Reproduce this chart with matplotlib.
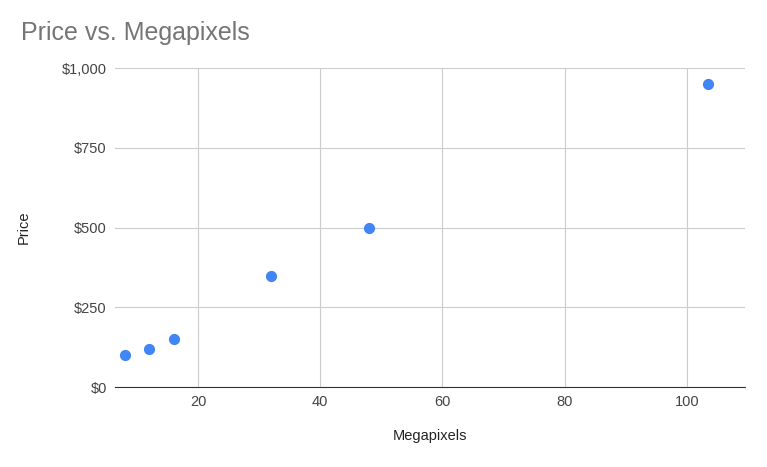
import matplotlib
matplotlib.use("Agg")
import matplotlib.pyplot as plt
from matplotlib.ticker import FuncFormatter

megapixels = [8, 12, 16, 32, 48, 103.5]
price = [100, 120, 150, 350, 500, 950]
xticks = [20, 40, 60, 80, 100]
yticks = [0, 250, 500, 750, 1000]

plt.rcParams['font.family'] = ['Liberation Sans', 'DejaVu Sans']
fig = plt.figure(figsize=(7.67, 4.67), dpi=100)
ax = fig.add_axes([0.150, 0.171, 0.821, 0.683])
ax.scatter(megapixels, price, s=65, color='#4285f4', zorder=3, linewidths=0)
ax.set_xlim(6.4, 109.5)
ax.set_ylim(0, 1000)
ax.set_xticks(xticks)
ax.set_yticks(yticks)
ax.yaxis.set_major_formatter(FuncFormatter(lambda v, p: f"${v:,.0f}"))
ax.grid(True, color='#cccccc', linewidth=0.8)
for s in ['top', 'right', 'left']:
    ax.spines[s].set_visible(False)
ax.spines['bottom'].set_color('#333333')
ax.tick_params(length=0, labelsize=10.5, colors='#444444', pad=6)
ax.set_xlabel('Megapixels', fontsize=10.5, color='#222222', labelpad=14)
ax.set_ylabel('Price', fontsize=10.5, color='#222222', labelpad=22)
fig.text(0.027, 0.93, 'Price vs. Megapixels', fontsize=18, color='#757575', va='center')
fig.savefig('out.png', dpi=100, facecolor='white')
